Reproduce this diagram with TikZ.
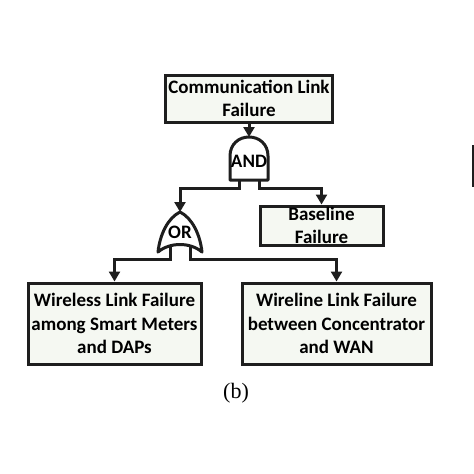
\documentclass[tikz,border=0pt]{standalone}
\usepackage{fontspec}
\setmainfont{Carlito}
\newfontfamily\capfont{Liberation Serif}
\usetikzlibrary{arrows.meta}
\definecolor{boxfill}{RGB}{245,248,242}
\definecolor{ink}{RGB}{30,30,30}
\begin{document}
\begin{tikzpicture}[x=1pt,y=-1pt,
  box/.style={draw=ink, fill=boxfill, line width=3pt, rectangle, align=center, inner sep=0pt,
    font=\fontsize{19}{23.5}\selectfont\bfseries},
  conn/.style={draw=ink, line width=3pt},
  arr/.style={conn, -{Triangle[length=10pt,width=11pt]}},
  gate/.style={draw=ink, fill=white, line width=3pt, line join=round},
  gatelabel/.style={inner sep=0pt, font=\fontsize{19}{20}\selectfont\bfseries}]
\useasboundingbox (0,0) rectangle (474,474);
\fill[white] (0,0) rectangle (474,474);

% boxes
\node[box, minimum width=167pt, minimum height=47pt] (top) at (249,98.5) {Communication Link\\Failure};
\node[box, minimum width=123pt, minimum height=39pt] (base) at (321.5,225.5) {Baseline\\Failure};
\node[box, minimum width=173pt, minimum height=81pt] (wless) at (114.5,323.5) {Wireless Link Failure\\among Smart Meters\\and DAPs};
\node[box, minimum width=189pt, minimum height=81pt] (wline) at (336.5,323.5) {Wireline Link Failure\\between Concentrator\\and WAN};

% gate pins
\coordinate (andin) at (249,137);
\coordinate (andL) at (239,178);
\coordinate (andR) at (259,178);
\coordinate (orin) at (180,212);
\coordinate (orL) at (170,246);
\coordinate (orR) at (190,246);

% connectors
\draw[arr] (top.south) -- (andin);
\draw[arr] (andL) -- (239,188) -| (orin);
\draw[arr] (andR) -- (259,188) -| (base.north);
\draw[arr] (orL) -- (170,259) -| (wless.north);
\draw[arr] (orR) -- (190,259) -| (wline.north);

% AND gate
\draw[gate] (230,180) -- (230,156) .. controls (230,144) and (239,137) .. (249,137)
  .. controls (259,137) and (268,144) .. (268,156) -- (268,180) -- cycle;
\node[gatelabel] (andg) at (249,161) {AND};

% OR gate
\draw[gate] (180,212) .. controls (168,218) and (160,234) .. (158,252)
  .. controls (170,242) and (190,242) .. (202,252)
  .. controls (200,234) and (192,218) .. (180,212) -- cycle;
\node[gatelabel] (org) at (180,232) {OR};

% caption
\node[font=\capfont\fontsize{22}{24}\selectfont] (cap) at (236,393) {(b)};

% fragment of neighbouring figure
\fill[ink] (472,145) rectangle (474,187);
\end{tikzpicture}
\end{document}
